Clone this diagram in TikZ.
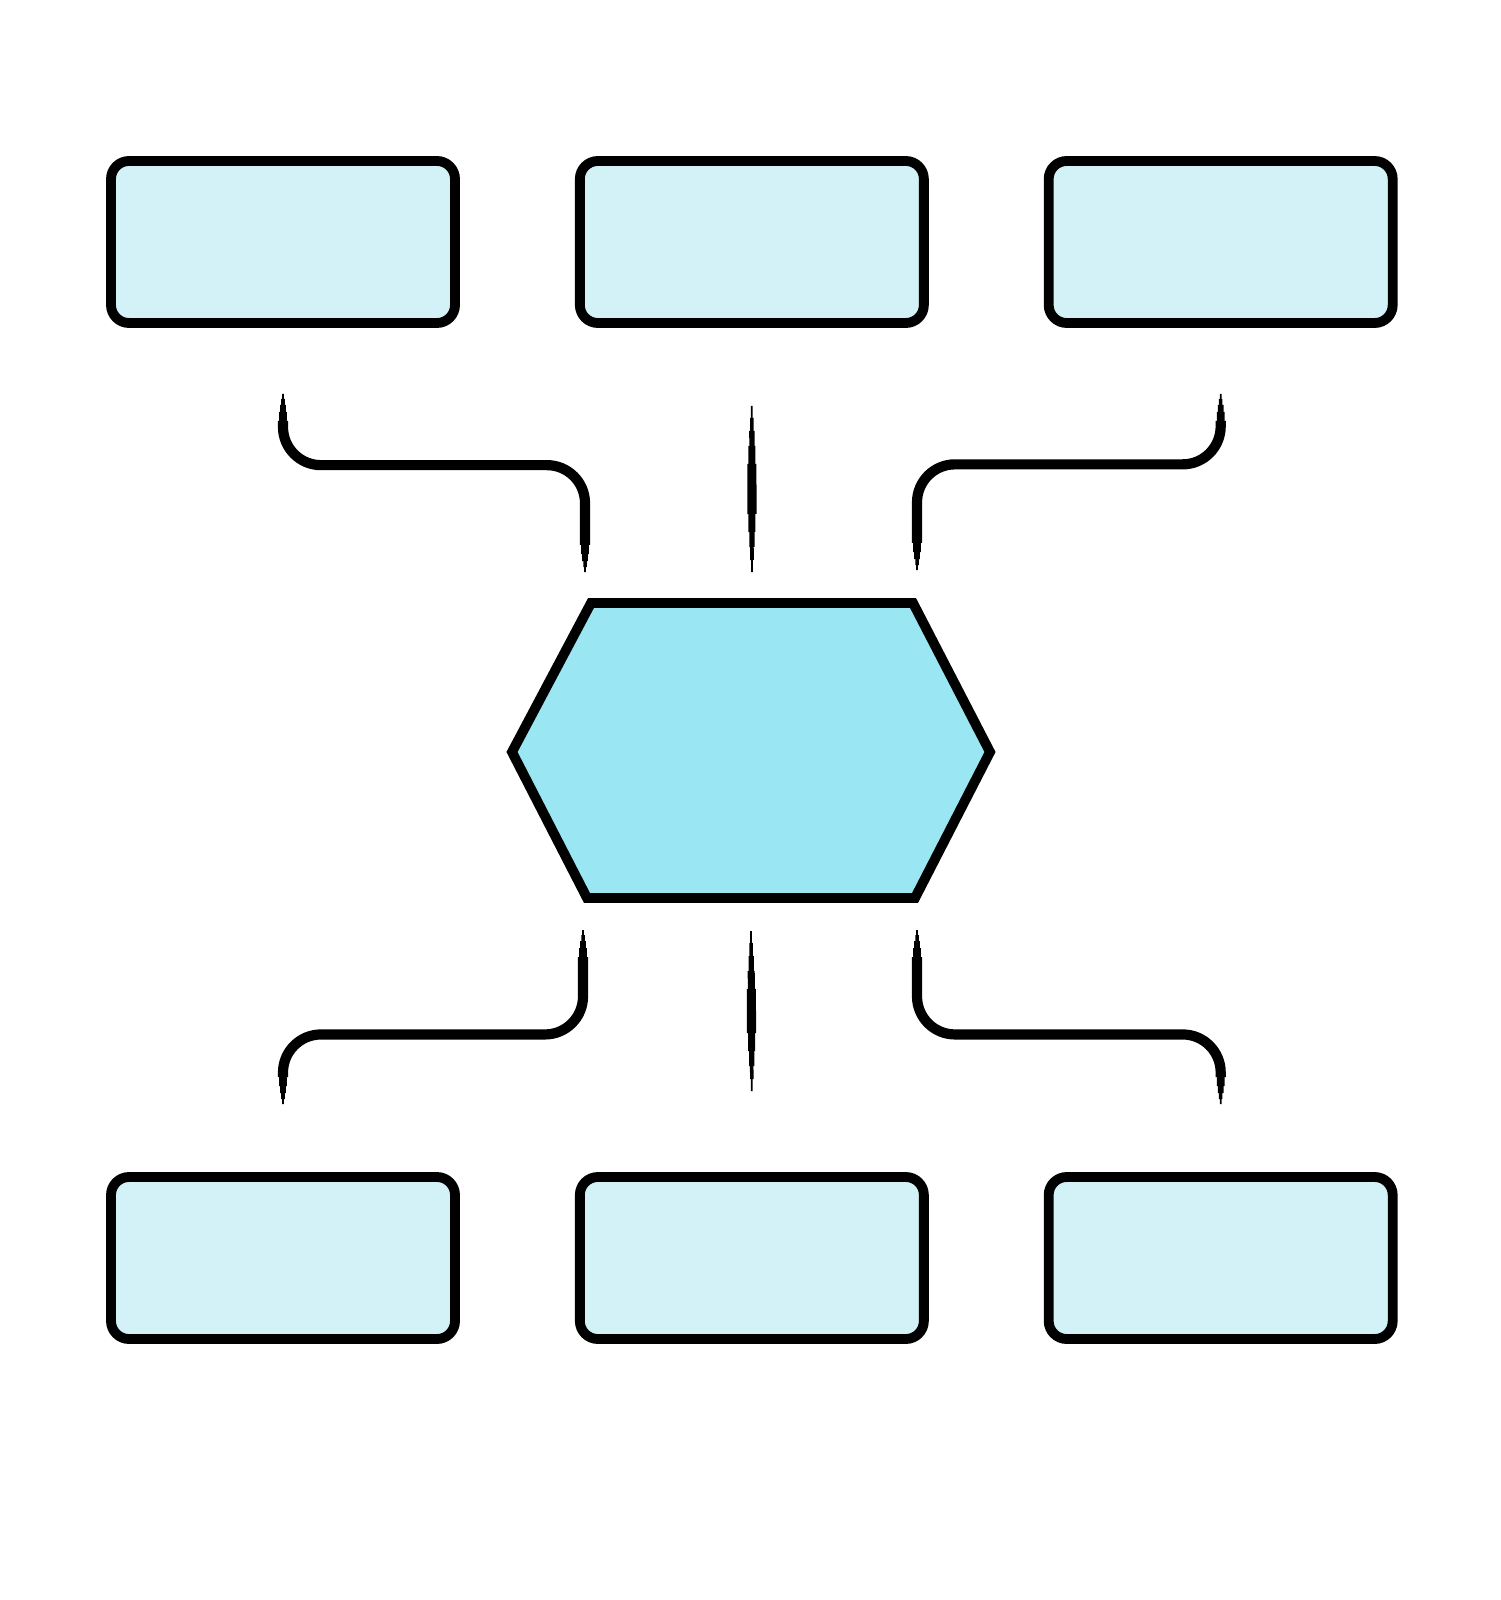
\documentclass[tikz,border=0pt]{standalone}
\usetikzlibrary{positioning,calc}
\definecolor{boxblue}{HTML}{D3F2F8}
\definecolor{hubblue}{HTML}{9AE6F2}
\tikzset{every node/.style={align=center}, node distance=1.15cm,
  box/.style={draw, rectangle, rounded corners=0.18cm, fill=boxblue, line width=2.8pt, minimum width=3.44cm, minimum height=1.62cm},
  hexa/.style={draw, fill=hubblue, line width=2.8pt},
  brush/.style={line width=0.5pt, rounded corners=0.38cm,
    preaction={draw, line width=1.0pt, shorten <=0.05cm, shorten >=0.05cm},
    preaction={draw, line width=1.6pt, shorten <=0.11cm, shorten >=0.11cm},
    preaction={draw, line width=2.2pt, shorten <=0.18cm, shorten >=0.18cm},
    preaction={draw, line width=2.9pt, shorten <=0.27cm, shorten >=0.27cm}},
  spoke/.style={line width=0.5pt,
    preaction={draw, line width=1.0pt, shorten <=0.12cm, shorten >=0.12cm},
    preaction={draw, line width=1.5pt, shorten <=0.25cm, shorten >=0.25cm},
    preaction={draw, line width=2.0pt, shorten <=0.4cm, shorten >=0.4cm},
    preaction={draw, line width=2.6pt, shorten <=0.58cm, shorten >=0.58cm}}}

\begin{document}
\begin{tikzpicture}
  \useasboundingbox (0,0) rectangle (15,-16);

  % boxes
  \node [box] (t1) at (2.83,-2.42) {};
  \node [box] (t2) [right=of t1] {};
  \node [box] (t3) [right=of t2] {};
  \node [box] (b1) at (2.83,-12.58) {};
  \node [box] (b2) [right=of b1] {};
  \node [box] (b3) [right=of b2] {};

  % centre
  \draw [hexa] (5.91,-6.03) coordinate (h1) -- (9.13,-6.03) coordinate (h2)
    -- (9.90,-7.52) coordinate (h3) -- (9.15,-8.98) coordinate (h4)
    -- (5.87,-8.98) coordinate (h5) -- (5.12,-7.52) coordinate (h6) -- cycle;

  \coordinate (l1) at ($(t1.south)+(0,-0.66)$);
  \coordinate (l2) at ($(h1)+(-0.06,0.31)$);
  \coordinate (r1) at ($(t3.south)+(0,-0.66)$);
  \coordinate (r2) at ($(h2)+(0.04,0.33)$);
  \coordinate (l3) at ($(h5)+(-0.04,-0.32)$);
  \coordinate (l4) at ($(b1.north)+(0,0.68)$);
  \coordinate (r3) at ($(h4)+(0.02,-0.32)$);
  \coordinate (r4) at ($(b3.north)+(0,0.68)$);

  \draw [brush] (l1) |- ($(l1)!0.4!(l2)$) -| (l2);
  \draw [brush] (r1) |- ($(r1)!0.4!(r2)$) -| (r2);
  \draw [brush] (l3) |- ($(l3)!0.6!(l4)$) -| (l4);
  \draw [brush] (r3) |- ($(r3)!0.6!(r4)$) -| (r4);
  \draw [spoke] ($(t2.south)+(0,-0.78)$) -- ($(h1)!0.5!(h2)+(0,0.31)$);
  \draw [spoke] ($(h5)!0.5!(h4)+(0,-0.33)$) -- ($(b2.north)+(0,0.81)$);
\end{tikzpicture}
\end{document}
